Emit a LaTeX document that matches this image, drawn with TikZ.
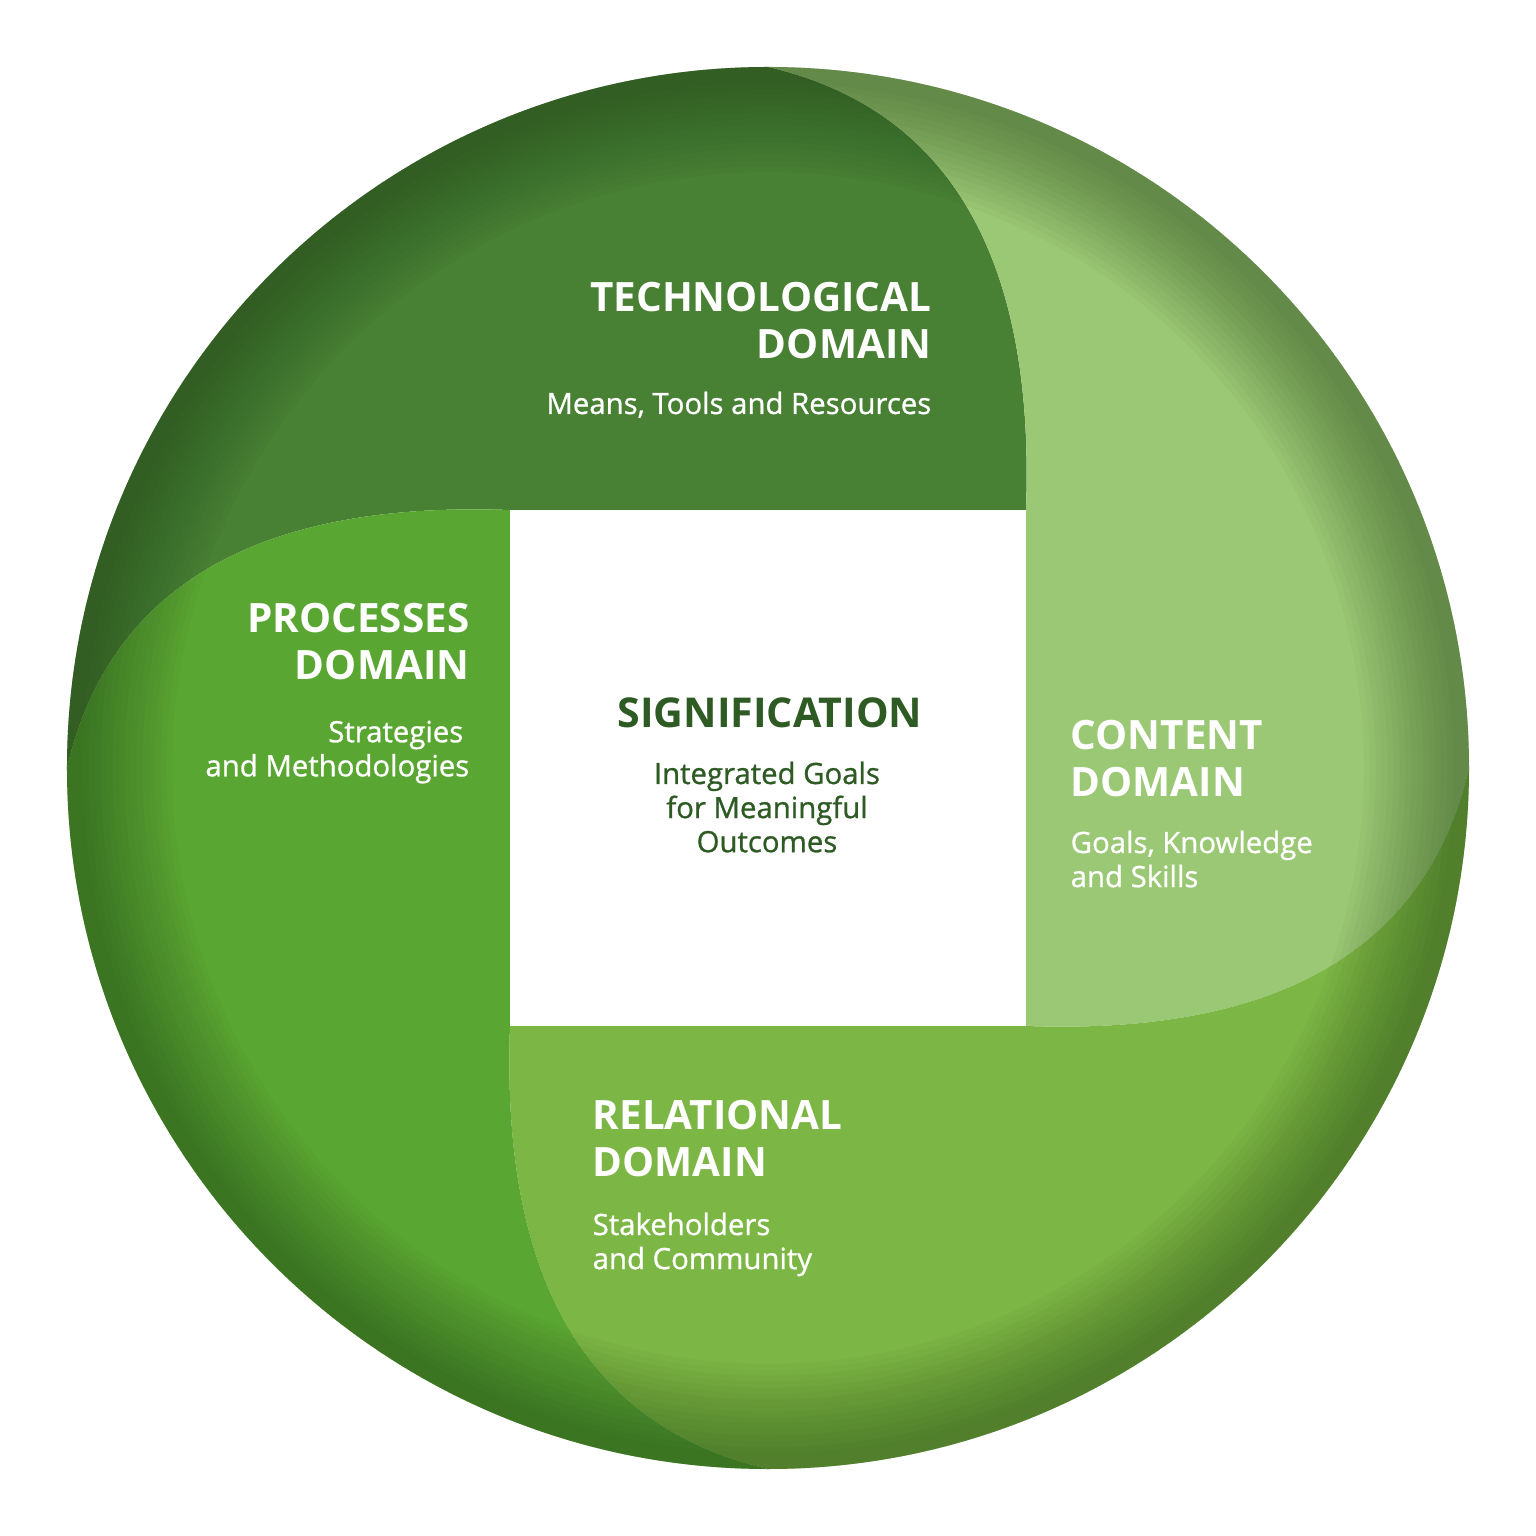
\documentclass[tikz,border=0pt]{standalone}
\usepackage{fontspec}
\setmainfont{Open Sans}
\newfontfamily\subfont{Open Sans}[FakeBold=0.9]
\usepackage{xcolor}
\definecolor{TechGreen}{RGB}{72,128,52}
\definecolor{ContentGreen}{RGB}{155,200,116}
\definecolor{RelGreen}{RGB}{124,182,69}
\definecolor{ProcGreen}{RGB}{90,166,50}
\definecolor{RimGreen}{RGB}{30,60,20}
\definecolor{SigGreen}{RGB}{46,90,35}
\usepackage{tikz}
\tikzset{
  % Domain sectors
  sector/.style={draw=none},
  tech sector/.style={sector, fill=TechGreen},
  content sector/.style={sector, fill=ContentGreen},
  rel sector/.style={sector, fill=RelGreen},
  proc sector/.style={sector, fill=ProcGreen},
  % Rim shade ring
  rim/.style={fill=RimGreen, opacity=0.032, even odd rule},
  % Centre square
  sigbox/.style={rectangle, fill=white, minimum size=5.16cm, inner sep=0pt},
  % Texts
  dtitle/.style={font=\bfseries\fontsize{11.5}{13.4}\selectfont, text=white, inner sep=0pt},
  dsub/.style={font=\subfont\fontsize{8.35}{9.7}\selectfont, text=white, inner sep=0pt},
  sigtitle/.style={font=\bfseries\fontsize{11.7}{14}\selectfont, text=SigGreen, inner sep=0pt},
  sigsub/.style={dsub, text=SigGreen},
}
\newcommand{\R}{7.01}
\newcommand{\half}{2.58}

\begin{document}
\begin{tikzpicture}
  \useasboundingbox (-7.68,-7.68) rectangle (7.68,7.68);

  %% Sectors
  \fill[tech sector] (0,\R) arc[start angle=90, end angle=180, radius=\R]
    .. controls (-6.5,2.2) and (-4.5,2.65) .. (-\half,\half) -- (\half,\half)
    .. controls (2.65,4.5) and (2.2,6.5) .. (0,\R) -- cycle;
  \fill[content sector] (\R,0) arc[start angle=0, end angle=90, radius=\R]
    .. controls (2.2,6.5) and (2.65,4.5) .. (\half,\half) -- (\half,-\half)
    .. controls (4.5,-2.65) and (6.5,-2.2) .. (\R,0) -- cycle;
  \fill[rel sector] (0,-\R) arc[start angle=270, end angle=360, radius=\R]
    .. controls (6.5,-2.2) and (4.5,-2.65) .. (\half,-\half) -- (-\half,-\half)
    .. controls (-2.65,-4.5) and (-2.2,-6.5) .. (0,-\R) -- cycle;
  \fill[proc sector] (-\R,0) arc[start angle=180, end angle=270, radius=\R]
    .. controls (-2.2,-6.5) and (-2.65,-4.5) .. (-\half,-\half) -- (-\half,\half)
    .. controls (-4.5,2.65) and (-6.5,2.2) .. (-\R,0) -- cycle;

  %% Rim shade
  \foreach \k in {0,...,15}
    \fill[rim] (0,0) circle (\R) circle ({\R*(0.85+0.0085*\k)});

  %% Centre
  \node[sigbox] (sig) at (0,0) {};
  \node[sigtitle, anchor=north] (sigt) at (0.02,0.71) {SIGNIFICATION};
  \node[sigsub, anchor=north, align=center] (sigs) at (-0.01,0.07)
    {Integrated Goals\\for Meaningful\\Outcomes};

  %% Domain labels
  \node[dtitle, anchor=north east, align=right] (techt) at (1.64,4.87) {TECHNOLOGICAL\\DOMAIN};
  \node[dsub, anchor=north east, align=right] (techs) at (1.64,3.77) {Means, Tools and Resources};

  \node[dtitle, anchor=north east, align=right] (proct) at (-2.98,1.66) {PROCESSES\\DOMAIN};
  \node[dsub, anchor=north east, align=right] (procs) at (-2.98,0.48)
    {Strategies\hspace*{0.06cm}\\and Methodologies};

  \node[dtitle, anchor=north west, align=left] (contt) at (3.02,0.49) {CONTENT\\DOMAIN};
  \node[dsub, anchor=north west, align=left] (conts) at (3.02,-0.62)
    {Goals, Knowledge\\and Skills};

  \node[dtitle, anchor=north west, align=left] (relt) at (-1.76,-3.31) {RELATIONAL\\DOMAIN};
  \node[dsub, anchor=north west, align=left] (rels) at (-1.76,-4.44)
    {Stakeholders\\and Community};

\end{tikzpicture}
\end{document}
